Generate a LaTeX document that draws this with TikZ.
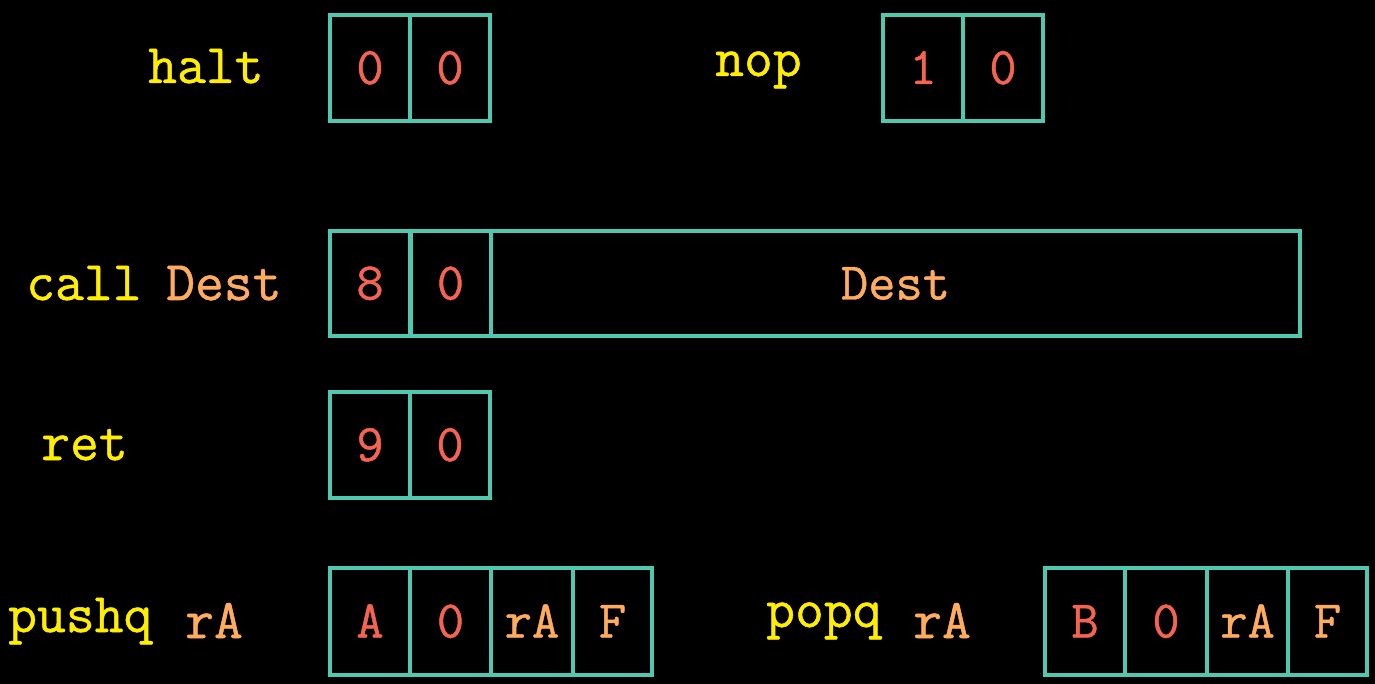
\documentclass[tikz,border=0pt]{standalone}
\usepackage{fontspec}
\newfontfamily\codefont{Latin Modern Mono}[FakeBold=0.9]
\definecolor{bg}{RGB}{0,0,0}
\definecolor{cellline}{RGB}{80,200,175}
\definecolor{insyellow}{RGB}{255,238,0}
\definecolor{argorange}{RGB}{255,172,95}
\definecolor{codered}{RGB}{245,100,80}
\tikzset{
  cell/.style={draw=cellline, line width=4pt, minimum width=80pt, minimum height=106pt,
    inner sep=0pt, text height=36pt, text depth=4pt, font=\codefont\bfseries\fontsize{53}{60}\selectfont},
  code/.style={cell, text=codered},
  arg/.style={cell, text=argorange},
  ins/.style={anchor=base west, inner sep=0pt, text=insyellow, font=\codefont\bfseries\fontsize{56}{60}\selectfont},
  opd/.style={anchor=base west, inner sep=0pt, text=argorange, font=\codefont\bfseries\fontsize{56}{60}\selectfont}
}
\begin{document}
\begin{tikzpicture}[x=1pt,y=-1pt]
\fill[bg] (0,0) rectangle (1375,684);
\useasboundingbox (0,0) rectangle (1375,684);
% halt
\node[ins] (lhalt) at (148,83) {halt};
\node[code] (h1) at (370,68) {0};
\node[code] (h2) at (450,68) {0};
% nop
\node[ins] (lnop) at (715,76) {nop};
\node[code] (n1) at (923,68) {1};
\node[code] (n2) at (1003,68) {0};
% call
\node[ins] (lcall) at (26,300) {call};
\node[opd] (lcalld) at (166,300) {Dest};
\node[code, minimum height=105pt] (c1) at (370,283.5) {8};
\node[code, minimum height=105pt] (c2) at (450.5,283.5) {0};
\node[arg, minimum height=105pt, minimum width=809pt] (c3) at (895.5,283.5) {Dest};
% ret
\node[ins] (lret) at (41,460) {ret};
\node[code] (r1) at (370,445) {9};
\node[code] (r2) at (450,445) {0};
% pushq
\node[ins] (lpush) at (8,632) {pushq};
\node[opd] (lpusha) at (185,638) {rA};
\node[code, minimum height=107pt] (p1) at (370,621.5) {A};
\node[code, minimum height=107pt, minimum width=81pt] (p2) at (450.5,621.5) {0};
\node[arg, minimum height=107pt, minimum width=82pt] (p3) at (532,621.5) {rA};
\node[arg, minimum height=107pt, minimum width=79pt] (p4) at (612.5,621.5) {F};
% popq
\node[ins] (lpop) at (766,627) {popq};
\node[opd] (lpopa) at (913,638) {rA};
\node[code, minimum height=107pt] (q1) at (1085,621.5) {B};
\node[code, minimum height=107pt, minimum width=82pt] (q2) at (1166,621.5) {0};
\node[arg, minimum height=107pt, minimum width=81pt] (q3) at (1247.5,621.5) {rA};
\node[arg, minimum height=107pt, minimum width=79pt] (q4) at (1327.5,621.5) {F};
\end{tikzpicture}
\end{document}
